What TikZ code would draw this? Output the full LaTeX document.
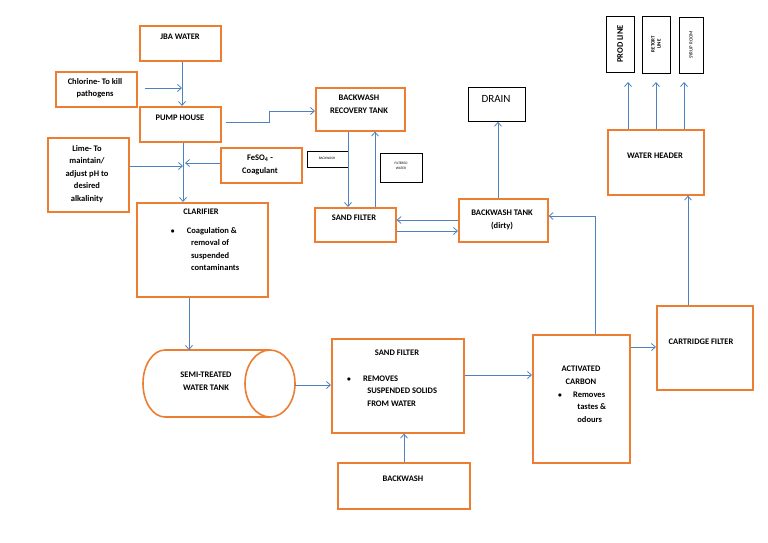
\documentclass[tikz,border=0pt]{standalone}
\usepackage{fontspec}
\setmainfont{Carlito}
\usetikzlibrary{arrows.meta,calc}
\definecolor{org}{HTML}{ED7D31}
\definecolor{blu}{HTML}{4F81BD}
\tikzset{
  box/.style={draw=org, line width=1.6pt, fill=white, font=\bfseries\fontsize{8}{12}\selectfont},
  blk/.style={draw=black, line width=0.8pt, fill=white},
  flow/.style={draw=blu, line width=0.8pt, -{Straight Barb[length=4pt,width=7pt]}},
}
% box from corners given in pixels: #1 name, #2 x1, #3 y1, #4 x2, #5 y2
\newcommand{\pbox}[6][box]{
  \node[#1, anchor=north west, minimum width=#4pt-#2pt, minimum height=#5pt-#3pt, inner sep=0pt] (#6) at (#2,#3) {};
}
\begin{document}
\begin{tikzpicture}[x=1pt,y=-1pt]
\useasboundingbox (0,0) rectangle (768,543);
% boxes
\pbox{139}{25}{220}{60}{jba}
\pbox{55}{71}{136}{106}{chl}
\pbox{139}{106}{220}{141}{pump}
\pbox{47}{137}{128}{211}{lime}
\pbox{220}{147}{301}{182}{fes}
\pbox{136}{202}{267}{296}{clar}
\pbox{315}{87}{404}{130}{rec}
\pbox[blk]{307}{151}{348}{167}{bwl}
\pbox[blk]{380}{153}{422}{182}{fwl}
\pbox{314}{207}{395}{241}{sf1}
\pbox[blk]{468}{87}{525}{121}{drain}
\pbox{458}{198}{547}{241}{bwt}
\pbox[blk]{606}{16}{634}{72}{prod}
\pbox[blk]{642}{16}{670}{73}{ret}
\pbox[blk]{679}{17}{703}{73}{syr}
\pbox{607}{129}{703}{194}{hdr}
\pbox{656}{305}{752}{389}{cart}
\pbox{532}{334}{629}{462}{ac}
\pbox{331}{338}{463}{432}{sf2}
\pbox{337}{462}{469}{508}{bw}
% tank
\draw[draw=org, line width=1.6pt, fill=white] (270,350) -- (165,350) arc[start angle=90, end angle=270, x radius=22, y radius=-33.5] -- (270,417);
\draw[draw=org, line width=1.6pt, fill=white] (270,383.5) ellipse[x radius=25, y radius=33.5];
\coordinate (tankL) at (189,350);
\coordinate (tankR) at (295,385);
% texts
\begin{scope}[every node/.style={font=\bfseries\fontsize{8.5}{12.5}\selectfont, align=center}]
\node (t1) at (180,37) {JBA WATER};
\node (t2) at (95,88) {Chlorine- To kill\\pathogens};
\node (t3) at (180,118) {PUMP HOUSE};
\node (t4) at (87,174) {Lime- To\\maintain/\\adjust pH to\\desired\\alkalinity};
\node (t5) at (260,165) {FeSO\textsubscript{4} -\\Coagulant};
\node (t6) at (201,212) {CLARIFIER};
\node[align=left] (t7) at (205,249) {$\bullet$\hspace{1.4em}Coagulation \&\\\hspace{2.4em}removal of\\\hspace{2.4em}suspended\\\hspace{2.4em}contaminants};
\node (t8) at (359,104) {BACKWASH\\RECOVERY TANK};
\node[font=\fontsize{3.5}{4.5}\selectfont] (t9) at (327,158) {BACKWASH};
\node[font=\fontsize{3.5}{4.5}\selectfont] (t10) at (401,166) {FILTERED\\WATER};
\node (t11) at (354,218) {SAND FILTER};
\node[font=\fontsize{11}{13}\selectfont] (t12) at (496,99) {DRAIN};
\node (t13) at (502,220) {BACKWASH TANK\\(dirty)};
\node[rotate=90] (t14) at (620,44) {PROD LINE};
\node[rotate=90, font=\bfseries\fontsize{5}{6}\selectfont] (t15) at (656,44) {RETORT\\LINE};
\node[rotate=90, font=\fontsize{5}{6}\selectfont] (t16) at (691,45) {SYRUP ROOM};
\node (t17) at (655,156) {WATER HEADER};
\node (t18) at (701,342) {CARTRIDGE FILTER};
\node (t19) at (581,375) {ACTIVATED\\CARBON};
\node[align=left] (t20) at (582,407) {$\bullet$\hspace{1.3em}Removes\\\hspace{2.3em}tastes \&\\\hspace{2.3em}odours};
\node (t21) at (397,353) {SAND FILTER};
\node[align=left] (t22) at (392,391) {$\bullet$\hspace{1.4em}REMOVES\\\hspace{2.4em}SUSPENDED SOLIDS\\\hspace{2.4em}FROM WATER};
\node (t23) at (403,479) {BACKWASH};
\node (t24) at (206,381) {SEMI-TREATED\\WATER TANK};
\end{scope}
% connectors
\draw[flow] (jba.south -| 182,0) -- (pump.north -| 182,0);
\draw[flow] (chl.east |- 0,88) ++(7,0) -- (182,88);
\draw[flow] (pump.south -| 183,0) -- (clar.north -| 183,0);
\draw[flow] (lime.east |- 0,166) -- (183,166);
\draw[flow] (fes.west |- 0,163) -- (185,163);
\draw[flow] (pump.east |- 0,122) ++(4,0) -- (269,122) -- (269,111) -- (rec.west |- 0,111);
\draw[flow] (rec.south -| 348,0) -- (sf1.north -| 348,0);
\draw[flow] (sf1.north -| 375,0) -- (rec.south -| 375,0);
\draw[flow] (bwt.west |- 0,220) -- (sf1.east |- 0,220);
\draw[flow] (sf1.east |- 0,231) -- (bwt.west |- 0,231);
\draw[flow] (bwt.north -| 498,0) -- (drain.south -| 498,0);
\draw[flow] (ac.north -| 595,0) -- (595,216) -- (bwt.east |- 0,216);
\draw[flow] (clar.south -| 189,0) -- (tankL);
\draw[flow] (tankR) -- (sf2.west |- tankR);
\draw[flow] (sf2.east |- 0,375) -- (ac.west |- 0,375);
\draw[flow] (ac.east |- 0,347) -- (cart.west |- 0,347);
\draw[flow] (cart.north -| 688,0) -- (hdr.south -| 688,0);
\draw[flow] (bw.north -| 404,0) -- (sf2.south -| 404,0);
\draw[flow] (hdr.north -| 628,0) -- (628,82);
\draw[flow] (hdr.north -| 656,0) -- (656,82);
\draw[flow] (hdr.north -| 684,0) -- (684,82);
\end{tikzpicture}
\end{document}
